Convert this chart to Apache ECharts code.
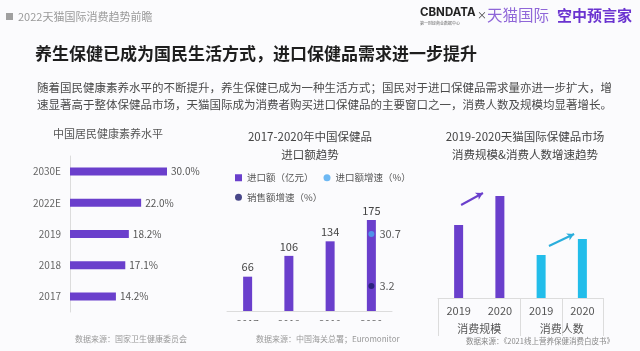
<!DOCTYPE html>
<html>
<head>
<meta charset="utf-8">
<script src="https://cdn.jsdelivr.net/npm/echarts@6/dist/echarts.min.js"></script>
<style>
  html, body { margin: 0; padding: 0; background: #fbfbfd; }
  #main { width: 640px; height: 351px; }
</style>
</head>
<body>
<div id="main"></div>
<script>
// chart 1: 中国居民健康素养水平 (bottom to top)
var literacyYears = ['2017', '2018', '2019', '2022E', '2030E'];
var literacyValues = [14.2, 17.1, 18.2, 22.0, 30.0];

// chart 2: 进口额趋势
var importYears = ['2017', '2018', '2019', '2020'];
var importValues = [66, 106, 134, 175];
var importGrowth = [null, null, null, 30.7];
var salesGrowth = [null, null, null, 3.2];

// chart 3: 消费规模 & 消费人数 (relative heights, no numbers given)
var tmallYears = ['2019', '2020', '2019', '2020'];
var tmallGroups = ['消费规模', '消费人数'];
var tmallValues = [73, 102, 43, 59];

var purple = '#6a3fcc';
var cyan = '#22bdea';
var font = '"Noto Sans CJK SC", "Noto Sans", sans-serif';

var chart = echarts.init(document.getElementById('main'));

function txt(x, y, text, size, color, extra) {
    var style = { x: x, y: y, text: text, fontSize: size, fill: color, fontFamily: font, verticalAlign: 'middle' };
    for (var k in extra) style[k] = extra[k];
    return { type: 'text', style: style, z: 100 };
}

chart.setOption({
    backgroundColor: '#fbfbfd',
    textStyle: { fontFamily: font },
    legend: {
        left: 230, top: 168, width: 200,
        itemWidth: 7, itemHeight: 7, itemGap: 10,
        textStyle: { fontSize: 9.5, color: '#555' },
        data: [
            { name: '进口额（亿元）', icon: 'rect' },
            { name: '进口额增速（%）', icon: 'circle' },
            { name: '销售额增速（%）', icon: 'circle' }
        ]
    },
    grid: [
        { left: 70, top: 156, width: 97, height: 156 },
        { left: 227, top: 207, width: 165, height: 104 },
        { left: 438, top: 188, width: 165, height: 110 },
        { left: 438, top: 188, width: 165, height: 110 }
    ],
    xAxis: [
        { gridIndex: 0, type: 'value', min: 0, max: 30, show: false },
        {
            gridIndex: 1, type: 'category', data: importYears,
            axisLine: { lineStyle: { color: '#dcdcdc' } },
            axisTick: { show: false },
            axisLabel: { fontSize: 10, color: '#666', margin: 8 }
        },
        {
            gridIndex: 2, type: 'category', data: tmallYears, position: 'bottom',
            axisLine: { lineStyle: { color: '#dcdcdc' } },
            axisTick: { show: true, interval: 1, length: 38, lineStyle: { color: '#dcdcdc' } },
            axisLabel: { fontSize: 11, color: '#555', margin: 7, interval: 0 }
        },
        {
            gridIndex: 2, type: 'category', data: tmallGroups, position: 'bottom',
            axisLine: { show: false }, axisTick: { show: false },
            axisLabel: { fontSize: 11, color: '#555', margin: 25 }
        },
        { gridIndex: 3, type: 'value', min: -0.5, max: 3.5, show: false }
    ],
    yAxis: [
        {
            gridIndex: 0, type: 'category', data: literacyYears,
            axisLine: { lineStyle: { color: '#dcdcdc' } },
            axisTick: { show: false },
            axisLabel: { fontSize: 10, color: '#666', margin: 9 }
        },
        { gridIndex: 1, type: 'value', min: 0, max: 200, show: false },
        { gridIndex: 1, type: 'value', min: -10, max: 45, show: false },
        { gridIndex: 2, type: 'value', min: 0, max: 110, show: false },
        { gridIndex: 3, type: 'value', min: 0, max: 110, show: false }
    ],
    series: [
        {
            type: 'bar', xAxisIndex: 0, yAxisIndex: 0, data: literacyValues,
            barWidth: 8, itemStyle: { color: purple },
            label: { show: true, position: 'right', distance: 4, fontSize: 10, color: '#555',
                     formatter: function (p) { return p.value.toFixed(1) + '%'; } }
        },
        {
            name: '进口额（亿元）', type: 'bar', xAxisIndex: 1, yAxisIndex: 1, data: importValues,
            barWidth: 9, itemStyle: { color: purple },
            label: { show: true, position: 'top', distance: 4, fontSize: 11, color: '#444' }
        },
        {
            name: '进口额增速（%）', type: 'scatter', xAxisIndex: 1, yAxisIndex: 2, data: importGrowth,
            symbolSize: 6, itemStyle: { color: '#4aa8f0' }, z: 5,
            label: { show: true, position: 'right', distance: 5, fontSize: 11, color: '#333' }
        },
        {
            name: '销售额增速（%）', type: 'scatter', xAxisIndex: 1, yAxisIndex: 2, data: salesGrowth,
            symbolSize: 6, itemStyle: { color: '#1b1a6b' }, z: 5,
            label: { show: true, position: 'right', distance: 5, fontSize: 11, color: '#333' }
        },
        {
            type: 'bar', xAxisIndex: 2, yAxisIndex: 3, barWidth: 9,
            data: tmallValues.map(function (v, i) {
                return { value: v, itemStyle: { color: i < 2 ? purple : cyan } };
            })
        },
        {
            type: 'line', xAxisIndex: 4, yAxisIndex: 4, data: [], silent: true,
            markLine: {
                silent: true, symbol: ['none', 'arrow'], symbolSize: [6, 7],
                label: { show: false },
                data: [
                    [{ coord: [0.06, 93], lineStyle: { color: purple, width: 2, type: 'solid' } }, { coord: [0.59, 105] }],
                    [{ coord: [2.19, 52], lineStyle: { color: '#2aaedc', width: 2, type: 'solid' } }, { coord: [2.8, 64] }]
                ]
            }
        }
    ],
    graphic: [
        // header
        { type: 'rect', shape: { x: 6, y: 13, width: 7, height: 7 }, style: { fill: '#a0a0a0' } },
        txt(18, 17, '2022天猫国际消费趋势前瞻', 11, '#999'),
        txt(420, 13, 'CBNDATA', 11.5, '#222', { fontWeight: 'bold', fontFamily: 'Inter, sans-serif' }),
        txt(420, 23, '第一财经商业数据中心', 4, '#666'),
        txt(477, 15, '×', 10, '#444'),
        txt(487, 15, '天猫国际', 15.5, '#8f66d8'),
        txt(557, 15, '空中预言家', 15, '#6a33d0', { fontWeight: 'bold' }),
        // title and intro
        txt(35, 54, '养生保健已成为国民生活方式，进口保健品需求进一步提升', 17, '#1e1e1e', { fontWeight: 'bold' }),
        txt(37, 88, '随着国民健康素养水平的不断提升，养生保健已成为一种生活方式；国民对于进口保健品需求量亦进一步扩大，增', 11.5, '#4a4a4a'),
        txt(37, 105, '速显著高于整体保健品市场，天猫国际成为消费者购买进口保健品的主要窗口之一，消费人数及规模均显著增长。', 11.5, '#4a4a4a'),
        // chart titles
        txt(108, 134, '中国居民健康素养水平', 11, '#555', { align: 'center' }),
        txt(310, 137, '2017-2020年中国保健品', 11.5, '#444', { align: 'center' }),
        txt(310, 155, '进口额趋势', 11.5, '#444', { align: 'center' }),
        txt(525, 137, '2019-2020天猫国际保健品市场', 11.5, '#444', { align: 'center' }),
        txt(525, 155, '消费规模&消费人数增速趋势', 11.5, '#444', { align: 'center' }),
        // mask cutting the lower part of the chart 2 year labels
        { type: 'rect', shape: { x: 222, y: 321, width: 180, height: 12 }, style: { fill: '#fbfbfd' }, z: 99 },
        // sources
        txt(75, 339, '数据来源：国家卫生健康委员会', 8, '#999'),
        txt(256, 339, '数据来源：中国海关总署；Euromonitor', 8, '#999'),
        txt(466, 341, '数据来源：《2021线上营养保健消费白皮书》', 7.5, '#888')
    ]
});
</script>
</body>
</html>
